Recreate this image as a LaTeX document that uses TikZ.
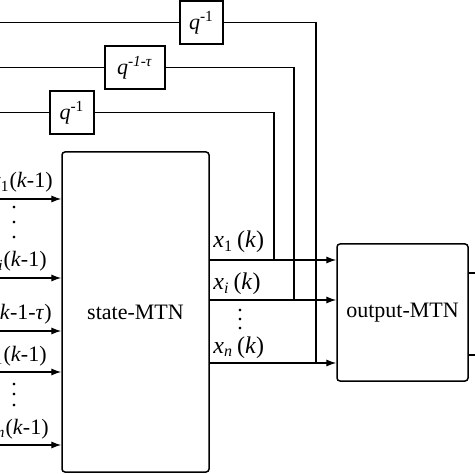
\documentclass[tikz,border=0pt]{standalone}
\usepackage{fontspec}
\setmainfont{Liberation Serif}
\usetikzlibrary{arrows.meta}

\newcommand\coldots[1]{\vbox{\baselineskip=#1\hbox{.}\hbox{.}\hbox{.}}}

\tikzset{
  block/.style={draw, line width=0.75pt, inner sep=0pt},
  wire/.style={line width=0.65pt},
  arr/.style={wire, -{Latex[length=5pt,width=3.6pt]}},
  dots/.style={inner sep=0pt},
}

\begin{document}
\begin{tikzpicture}[x=0.5pt, y=-0.5pt, font=\fontsize{11}{13}\selectfont]
  \useasboundingbox (0,0) rectangle (474,474);
  % networks
  \node [block, rounded corners=1.5pt, minimum width=73.5pt, minimum height=160pt] (sm) at (135.5,312) {state-MTN};
  \node [block, rounded corners=1.5pt, minimum width=65.5pt, minimum height=68.5pt] (om) at (402.5,312.5) {output-MTN};
  % delays
  \node [block, minimum width=21.5pt, minimum height=21.5pt] (qa) at (201.5,22.5) {\textit{q}\textsuperscript{-1}};
  \node [block, minimum width=30pt, minimum height=21.5pt] (qb) at (135,67.5) {\textit{q}\textsuperscript{\textit{-1-τ}}};
  \node [block, minimum width=22pt, minimum height=21.5pt] (qc) at (72,112.5) {\textit{q}\textsuperscript{-1}};
  \coordinate (lft) at (-20,0);
  \coordinate (rgt) at (490,0);

  % inputs of state-MTN
  \foreach \y/\x/\lab in {199/53/\textit{x}\textsubscript{1}(\textit{k}-1),
                          278/47/\textit{x}\textsubscript{\textit{i}}(\textit{k}-1),
                          331/52/\textit{x}\textsubscript{\textit{i}}(\textit{k}-1-\textit{τ}),
                          372/47/\textit{u}\textsubscript{1}(\textit{k}-1),
                          445/49/\textit{u}\textsubscript{\textit{m}}(\textit{k}-1)} {
    \coordinate (in\y) at (lft |- 0,\y);
    \draw [arr] (in\y) -- (sm.west |- in\y);
    \node [anchor=base east, inner sep=0pt] at (\x,\y-11) {\lab};
  }
  \node [dots] (d1) at (14,223) {\coldots{7.5pt}};
  \node [dots] (d2) at (14,395) {\coldots{5.2pt}};

  % outputs of state-MTN
  \coordinate (f1) at (274,260);
  \coordinate (f2) at (294,300);
  \coordinate (f3) at (316,363);
  \foreach \n in {1,2,3}
    \draw [arr] (sm.east |- f\n) -- (om.west |- f\n);
  \begin{scope}[font=\fontsize{12}{14}\selectfont]
    \node [anchor=base west, inner sep=0pt] (x1) at (213,248) {\textit{x}\textsubscript{1}\,(\textit{k})};
    \node [anchor=base west, inner sep=0pt] (xi) at (213,290) {\textit{x}\textsubscript{\textit{i}}\,(\textit{k})};
    \node [anchor=base west, inner sep=0pt] (xn) at (213,353) {\textit{x}\textsubscript{\textit{n}}\,(\textit{k})};
  \end{scope}
  \node [dots] (d3) at (240,320) {\coldots{4.5pt}};

  % feedback through delays
  \draw [wire] (f1) |- (qc.east);
  \draw [wire] (f2) |- (qb.east);
  \draw [wire] (f3) |- (qa.east);
  \draw [wire] (qa.west) -- (qa.west -| lft);
  \draw [wire] (qb.west) -- (qb.west -| lft);
  \draw [wire] (qc.west) -- (qc.west -| lft);

  % outputs of output-MTN
  \draw [wire] (om.east |- 0,273) -- (rgt |- 0,273);
  \draw [wire] (om.east |- 0,355) -- (rgt |- 0,355);
\end{tikzpicture}
\end{document}
